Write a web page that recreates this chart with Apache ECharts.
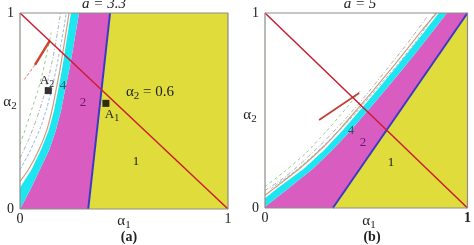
<!DOCTYPE html>
<html><head><meta charset="utf-8">
<script src="https://cdn.jsdelivr.net/npm/echarts/dist/echarts.min.js"></script>
<style>html,body{margin:0;padding:0;background:#fff}#c{width:474px;height:245px}</style>
</head><body><div id="c"></div>
<script>
// ---------- data: panel (a), a = 3.3 ----------
var aMagentaEdge = [[0,0],[0.05,0.1],[0.095,0.2],[0.14,0.3],[0.172,0.4],[0.197,0.5],[0.215,0.6],[0.235,0.7],[0.252,0.8],[0.268,0.9],[0.284,1]];
var aCyanEdge = [[0,0.11],[0.055,0.2],[0.10,0.3],[0.138,0.4],[0.163,0.5],[0.182,0.6],[0.2,0.7],[0.215,0.8],[0.23,0.9],[0.245,1]];
var aBlueLine = [[0.328,0],[0.433,1]];
var aTanLine = [[0,0.14],[0.04,0.2],[0.09,0.3],[0.128,0.4],[0.153,0.5],[0.172,0.6],[0.19,0.7],[0.206,0.8],[0.221,0.9],[0.236,1]];
var aBlueDash = [[0,0.2],[0.05,0.3],[0.1,0.42],[0.13,0.52],[0.155,0.62],[0.175,0.72],[0.195,0.83],[0.215,0.95],[0.222,1]];
var aGrayDash = [[0,0.26],[0.04,0.35],[0.08,0.46],[0.11,0.56],[0.135,0.66],[0.16,0.78],[0.18,0.9],[0.195,1]];
var aGreenDash = [[0,0.33],[0.03,0.42],[0.06,0.52],[0.085,0.6],[0.11,0.7],[0.13,0.8],[0.15,0.9]];
var aRedStroke = [[0.072,0.735],[0.144,0.86]];
var aRedDash = [[0.02,0.66],[0.072,0.735]];
var aPoints = [[0.413,0.539],[0.136,0.604]]; // A1, A2

// ---------- data: panel (b), a = 5 ----------
var bMagentaEdge = [[0,0.007],[0.115,0.1],[0.235,0.2],[0.335,0.3],[0.425,0.4],[0.508,0.5],[0.59,0.6],[0.67,0.7],[0.748,0.8],[0.824,0.9],[0.898,1]];
var bCyanEdge = [[0,0.05],[0.06,0.1],[0.19,0.2],[0.295,0.3],[0.385,0.4],[0.468,0.5],[0.55,0.6],[0.63,0.7],[0.708,0.8],[0.784,0.9],[0.858,1]];
var bBlueLine = [[0.335,0],[1,1]];
var bTanLine = [[0,0.065],[0.05,0.105],[0.18,0.21],[0.285,0.31],[0.375,0.41],[0.458,0.51],[0.54,0.61],[0.62,0.71],[0.698,0.81],[0.774,0.91],[0.848,1]];
var bBlueDash = [[0.03,0.1],[0.15,0.19],[0.25,0.28],[0.35,0.38],[0.45,0.49],[0.55,0.61],[0.65,0.73],[0.75,0.86],[0.84,1]];
var bGrayDash = [[0,0.09],[0.1,0.16],[0.2,0.25],[0.3,0.35],[0.4,0.46],[0.5,0.58],[0.6,0.71],[0.7,0.84],[0.8,0.98]];
var bGreenDash = [[0,0.11],[0.1,0.19],[0.2,0.28],[0.3,0.39],[0.4,0.51],[0.47,0.6]];
var bRedStroke = [[0.267,0.451],[0.465,0.59]];

// shared
var diagonal = [[0,1],[1,0]];
var frame = [[0,0],[1,0],[1,1],[0,1],[0,0]];
var cornerBR = [1,0], cornerTR = [1,1], cornerBL = [0,0];

var YEL = '#e0dc3c', MAG = '#d95cc0', CYA = '#1ee6f0', BLUE = '#3a3ac8', RED = '#c81e32';
var FONT = '"Liberation Serif", "DejaVu Serif", serif';

function rev(a){ return a.slice().reverse(); }
function poly(idx, pts, color){
  return {type:'custom', xAxisIndex:idx, yAxisIndex:idx, data:pts, silent:true, z:1,
    renderItem:function(params, api){
      if (params.dataIndex !== 0) return null;
      return {type:'polygon', shape:{points:pts.map(function(p){return api.coord(p);})}, style:{fill:color}};
    }};
}
function line(idx, pts, color, width, type, z, clip){
  return {type:'line', xAxisIndex:idx, yAxisIndex:idx, data:pts, symbol:'none', silent:true,
    lineStyle:{color:color, width:width, type:type||'solid'}, z:z||3, clip: clip!==false, smooth:0.2};
}

var chart = echarts.init(document.getElementById('c'), null, {renderer:'canvas'});
var grids = [{left:20, top:13, width:208, height:196}, {left:265, top:13, width:206, height:195}];
function xAx(i){ return {gridIndex:i, type:'value', min:0, max:1, interval:1,
  axisLine:{show:false}, axisTick:{show:false}, splitLine:{show:false},
  axisLabel:{fontFamily:FONT, fontSize:14, color:'#222', margin:3,
    formatter:function(v){ return (i===1 && v===1) ? '{b|1}' : String(v); },
    rich:{b:{fontFamily:FONT, fontSize:14, fontWeight:'bold', color:'#222'}}}}; }
function yAx(i){ return {gridIndex:i, type:'value', min:0, max:1, interval:1,
  axisLine:{show:false}, axisTick:{show:false}, splitLine:{show:false},
  axisLabel:{fontFamily:FONT, fontSize:14, color:'#222', margin:6}}; }

var series = [
  // panel a
  poly(0, [aBlueLine[0], cornerBR, cornerTR, aBlueLine[1]], YEL),
  poly(0, aMagentaEdge.concat(rev(aBlueLine)), MAG),
  poly(0, aCyanEdge.concat(rev(aMagentaEdge)), CYA),
  line(0, aTanLine, '#c9a27a', 1.2),
  line(0, aBlueDash, '#7aa6dc', 0.8, [3,2]),
  line(0, aGrayDash, '#9a9a9a', 0.8, [4,2,1,2]),
  line(0, aGreenDash, '#78c070', 0.8, [3,3]),
  line(0, aRedDash, '#e07060', 1, [3,2]),
  line(0, aRedStroke, '#d0452e', 2.5),
  line(0, aBlueLine, BLUE, 2, 'solid', 4),
  line(0, diagonal, RED, 1.5, 'solid', 5),
  {type:'scatter', xAxisIndex:0, yAxisIndex:0, data:aPoints, symbol:'rect', symbolSize:7, itemStyle:{color:'#000'}, silent:true, z:6},
  line(0, frame, '#8e8e86', 1.2, 'solid', 7, false),
  // panel b
  poly(1, [bBlueLine[0], cornerBR, bBlueLine[1]], YEL),
  poly(1, [cornerBL].concat(bMagentaEdge).concat(rev(bBlueLine)), MAG),
  poly(1, bCyanEdge.concat(rev(bMagentaEdge)), CYA),
  line(1, bTanLine, '#c9a27a', 1.2),
  line(1, bBlueDash, '#7aa6dc', 0.8, [3,2]),
  line(1, bGrayDash, '#9a9a9a', 0.8, [4,2,1,2]),
  line(1, bGreenDash, '#78c070', 0.8, [3,3]),
  line(1, bRedStroke, '#c0403a', 1.8),
  line(1, bBlueLine, BLUE, 2, 'solid', 4),
  line(1, diagonal, RED, 1.5, 'solid', 5),
  line(1, frame, '#8e8e86', 1.2, 'solid', 7, false)
];

function txt(x, y, text, opts){
  opts = opts || {};
  return {type:'text', x:x, y:y, z:100, style:{text:text, fontFamily:FONT, fontSize:opts.size||14,
    fontStyle:opts.italic?'italic':'normal', fontWeight:opts.bold?'bold':'normal',
    fill:opts.color||'#222', align:'center', verticalAlign:'middle', rich:opts.rich}};
}
var sub = {a:{fontFamily:FONT, fontSize:15, color:'#222'}, s:{fontFamily:FONT, fontSize:11, color:'#222', padding:[8,0,0,0]}};
var subSmall = {a:{fontFamily:FONT, fontSize:13, color:'#222'}, s:{fontFamily:FONT, fontSize:10, color:'#222', padding:[7,0,0,0]}};

chart.setOption({
  animation:false,
  grid: grids,
  xAxis: [xAx(0), xAx(1)],
  yAxis: [yAx(0), yAx(1)],
  series: series,
  graphic: [
    txt(104, 4, 'a = 3.3', {italic:true, size:15}),
    txt(360, 4, 'a = 5', {italic:true, size:15}),
    txt(129, 237, '(a)', {bold:true, size:14}),
    txt(372, 237, '(b)', {bold:true, size:14}),
    txt(124, 221, '{a|α}{s|1}', {rich:sub}),
    txt(369, 221, '{a|α}{s|1}', {rich:sub}),
    txt(10, 102, '{a|α}{s|2}', {rich:sub}),
    txt(250, 115, '{a|α}{s|2}', {rich:sub}),
    txt(47, 81, '{a|A}{s|2}', {rich:subSmall}),
    txt(112, 115, '{a|A}{s|1}', {rich:subSmall}),
    txt(63, 86, '4', {color:'#1f5a66', size:13}),
    txt(83, 103, '2', {color:'#6a1670', size:13}),
    txt(150, 92, '{a|α}{s|2}{a| = 0.6}', {rich:sub}),
    txt(136, 162, '1', {size:13}),
    txt(351, 131, '4', {color:'#1f5a66', size:13}),
    txt(363, 143, '2', {color:'#6a1670', size:13}),
    txt(391, 163, '1', {size:13})
  ]
});
</script></body></html>
